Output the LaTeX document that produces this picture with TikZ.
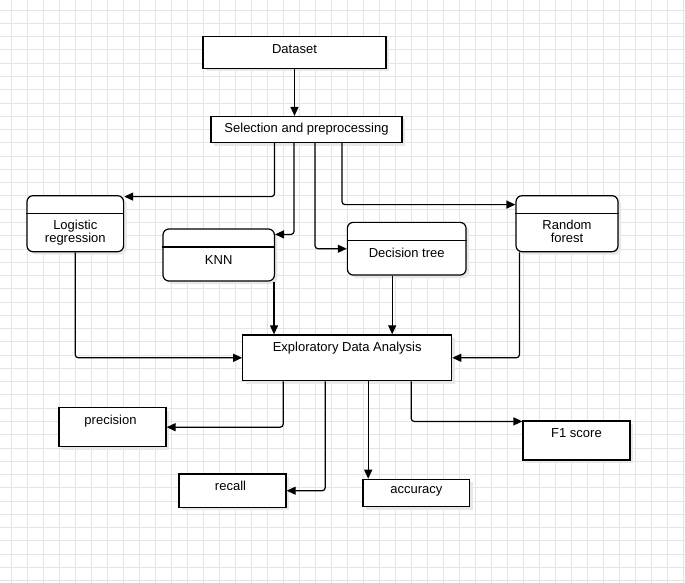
\documentclass[tikz,border=0pt]{standalone}
\usepackage{fontspec}
\setmainfont{Liberation Sans}
\usepackage{tikz}
\usetikzlibrary{shapes,arrows,arrows.meta}
\usetikzlibrary{positioning}
\tikzstyle{simplebox} = [rectangle, draw, fill=white, line width=1.2pt, inner sep=0pt,
    preaction={fill=black!9, transform canvas={xshift=3pt,yshift=-3pt}}]
\tikzstyle{model} = [simplebox, rounded corners=6pt]
\tikzstyle{txt} = [inner sep=0pt, align=center]
\tikzstyle{line} = [draw, line width=1.2pt, rounded corners=3pt, -{Triangle[length=9pt,width=8pt]}]
\tikzstyle{gridline} = [draw=black!10, line width=0.7pt]

\begin{document}
\begin{tikzpicture}[x=1pt,y=-1pt,font=\fontsize{13}{12.5}\selectfont]
    \useasboundingbox (0,0) rectangle (685,583);
    \fill[white] (0,0) rectangle (685,583);
    % grid paper
    \foreach \i in {0,...,42} \draw[gridline] ({11.7+16*\i},0) -- ++(0,583);
    \foreach \j in {0,...,43} \draw[gridline] (0,{10+13.27*\j}) -- ++(685,0);

    % Place nodes
    \node [simplebox, minimum width=183pt, minimum height=31.5pt] (data) at (294.5,52.5) {};
    \node [txt, below=8.5pt of data.north] (datatxt) {Dataset};
    \node [simplebox, minimum width=191pt, minimum height=26pt] (sel) at (306.5,129.5) {Selection and preprocessing};

    \node [model, minimum width=96.6pt, minimum height=56pt] (lr) at (75.3,223.7) {};
    \node [model, minimum width=111.4pt, minimum height=52pt] (knn) at (218.7,255) {};
    \node [model, minimum width=118.7pt, minimum height=52.7pt] (dt) at (406.7,248.7) {};
    \node [model, minimum width=102pt, minimum height=56pt] (rf) at (567,223.7) {};
    \foreach \m in {lr,knn,dt,rf}
        \draw [line width=1.2pt] ([yshift=-18.5pt]\m.north west) -- ([yshift=-18.5pt]\m.north east);
    \node [txt, below=25pt of lr.north] (lrtxt) {Logistic\\regression};
    \node [txt, below=26.5pt of knn.north] (knntxt) {KNN};
    \node [txt, below=26.5pt of dt.north] (dttxt) {Decision tree};
    \node [txt, below=25pt of rf.north] (rftxt) {Random\\forest};

    \node [simplebox, minimum width=209pt, minimum height=45.7pt] (eda) at (347.2,357.8) {};
    \node [txt, below=7.5pt of eda.north] (edatxt) {Exploratory Data Analysis};

    \node [simplebox, minimum width=107pt, minimum height=39pt] (prec) at (112.5,427.2) {};
    \node [txt, below=7.5pt of prec.north, xshift=-2pt] (prectxt) {precision};
    \node [simplebox, minimum width=107pt, minimum height=33.3pt] (rec) at (232.5,490.7) {};
    \node [txt, below=7.5pt of rec.north, xshift=-2pt] (rectxt) {recall};
    \node [simplebox, minimum width=106.6pt, minimum height=27.4pt] (acc) at (416.3,493) {};
    \node [txt, below=8pt of acc.north] (acctxt) {accuracy};
    \node [simplebox, minimum width=107pt, minimum height=39pt] (f1) at (576.5,440.5) {};
    \node [txt, below=7.5pt of f1.north] (f1txt) {F1 score};

    % branch points
    \coordinate (s1) at ([xshift=-32pt]sel.south);
    \coordinate (s2) at ([xshift=-12.5pt]sel.south);
    \coordinate (s3) at ([xshift=8.5pt]sel.south);
    \coordinate (s4) at ([xshift=35.5pt]sel.south);
    \coordinate (knnout) at ([xshift=-1pt]knn.south east);
    \coordinate (dtout) at ([xshift=-14.5pt]dt.south);
    \coordinate (rfout) at ([xshift=4pt]rf.south west);
    \coordinate (e1) at ([xshift=-64pt]eda.south);
    \coordinate (e2) at ([xshift=-22pt]eda.south);
    \coordinate (e3) at ([xshift=21pt]eda.south);
    \coordinate (e4) at ([xshift=64pt]eda.south);

    % Draw edges
    \path [line] (data.south) -- (data.south |- sel.north);
    \path [line] (s1) |- ([yshift=-1.5pt]lr.north east);
    \path [line] (s2) |- ([yshift=-6pt]knn.north east);
    \path [line] (s3) |- ([yshift=-27pt]dt.north west);
    \path [line] (s4) |- ([yshift=-9.5pt]rf.north west);

    \path [line] (lr.south) |- (eda.west);
    \path [line] (knnout) -- (knnout |- eda.north);
    \path [line] (dtout) -- (dtout |- eda.north);
    \path [line] (rfout) |- (eda.east);

    \path [line] (e1) |- (prec.east);
    \path [line] (e2) |- (rec.east);
    \path [line] (e3) -- (e3 |- acc.north);
    \path [line] (e4) |- ([yshift=-1pt]f1.north west);
\end{tikzpicture}
\end{document}
